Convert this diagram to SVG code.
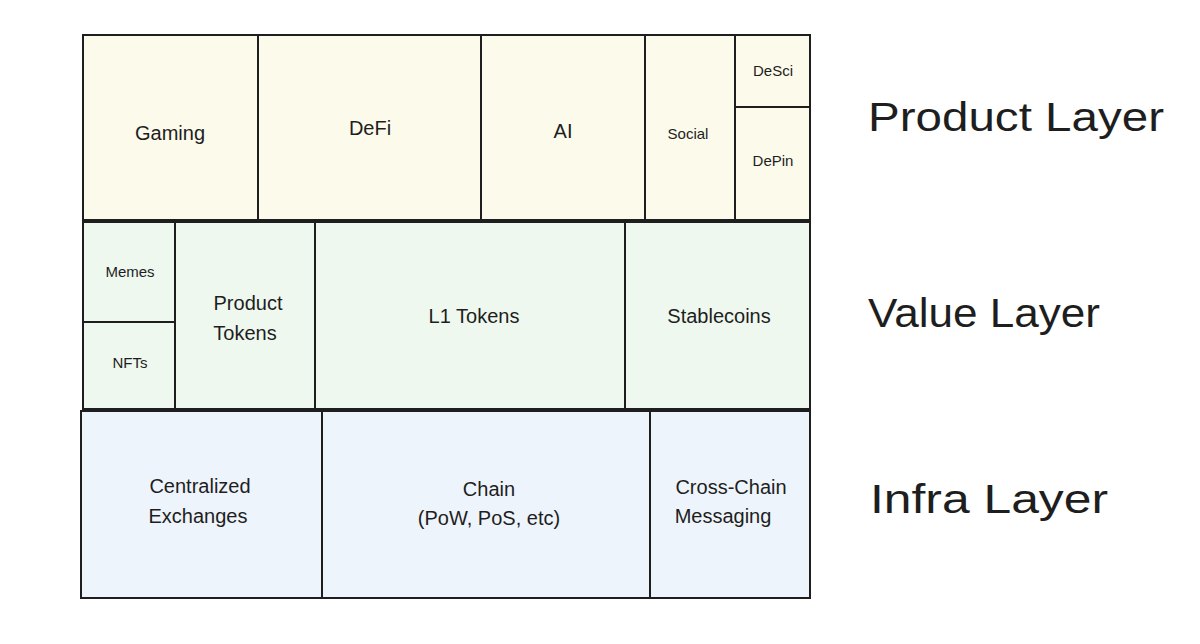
<svg xmlns="http://www.w3.org/2000/svg" width="1200" height="644" viewBox="0 0 1200 644">
<style>
.b{stroke:#1e1e1e;stroke-width:2;}
.p{fill:#fcfaeb}.v{fill:#eef8ee}.i{fill:#eef4fb}
text{font-family:"Liberation Sans",sans-serif;fill:#1e1e1e;text-anchor:middle;dominant-baseline:middle}
.s{font-size:20px}.xs{font-size:15px}.L{font-size:40px;text-anchor:start}
</style>
<rect width="1200" height="644" fill="#ffffff"/>
<g id="product">
<rect class="b p" x="83" y="35" width="727" height="185"/>
<g class="b" fill="none"><line x1="258" y1="35" x2="258" y2="220"/><line x1="481" y1="35" x2="481" y2="220"/><line x1="645" y1="35" x2="645" y2="220"/><line x1="735" y1="35" x2="735" y2="220"/><line x1="735" y1="107" x2="810" y2="107"/></g>
<g id="gaming"><text class="s" x="170" y="135">Gaming</text></g>
<g id="defi"><text class="s" x="370" y="130">DeFi</text></g>
<g id="ai"><text class="s" x="563" y="133">AI</text></g>
<g id="social"><text class="xs" x="688" y="135">Social</text></g>
<g id="desci"><text class="xs" x="773" y="72">DeSci</text></g>
<g id="depin"><text class="xs" x="773" y="162">DePin</text></g>
</g>
<g id="value">
<rect class="b v" x="83" y="222" width="727" height="187"/>
<g class="b" fill="none"><line x1="175" y1="222" x2="175" y2="409"/><line x1="315" y1="222" x2="315" y2="409"/><line x1="625" y1="222" x2="625" y2="409"/><line x1="83" y1="322" x2="175" y2="322"/></g>
<g id="memes"><text class="xs" x="130" y="273">Memes</text></g>
<g id="nfts"><text class="xs" x="130" y="364">NFTs</text></g>
<g id="ptokens"><text class="s" x="248" y="305">Product</text><text class="s" x="245" y="335">Tokens</text></g>
<g id="l1"><text class="s" x="474" y="318">L1 Tokens</text></g>
<g id="stable"><text class="s" x="719" y="318">Stablecoins</text></g>
</g>
<g id="infra">
<rect class="b i" x="81" y="411" width="729" height="187"/>
<g class="b" fill="none"><line x1="322" y1="411" x2="322" y2="598"/><line x1="650" y1="411" x2="650" y2="598"/></g>
<g id="cex"><text class="s" x="200" y="488">Centralized</text><text class="s" x="198" y="518">Exchanges</text></g>
<g id="chain"><text class="s" x="489" y="491">Chain</text><text class="s" x="489" y="520">(PoW, PoS, etc)</text></g>
<g id="ccm"><text class="s" x="731" y="489">Cross-Chain</text><text class="s" x="723" y="518">Messaging</text></g>
</g>
<g id="labels">
<text class="L" x="868" y="120" textLength="296" lengthAdjust="spacingAndGlyphs">Product Layer</text>
<text class="L" x="868" y="316" textLength="232" lengthAdjust="spacingAndGlyphs">Value Layer</text>
<text class="L" x="870" y="502" textLength="238" lengthAdjust="spacingAndGlyphs">Infra Layer</text>
</g>
<g id="connectors"/>
</svg>
